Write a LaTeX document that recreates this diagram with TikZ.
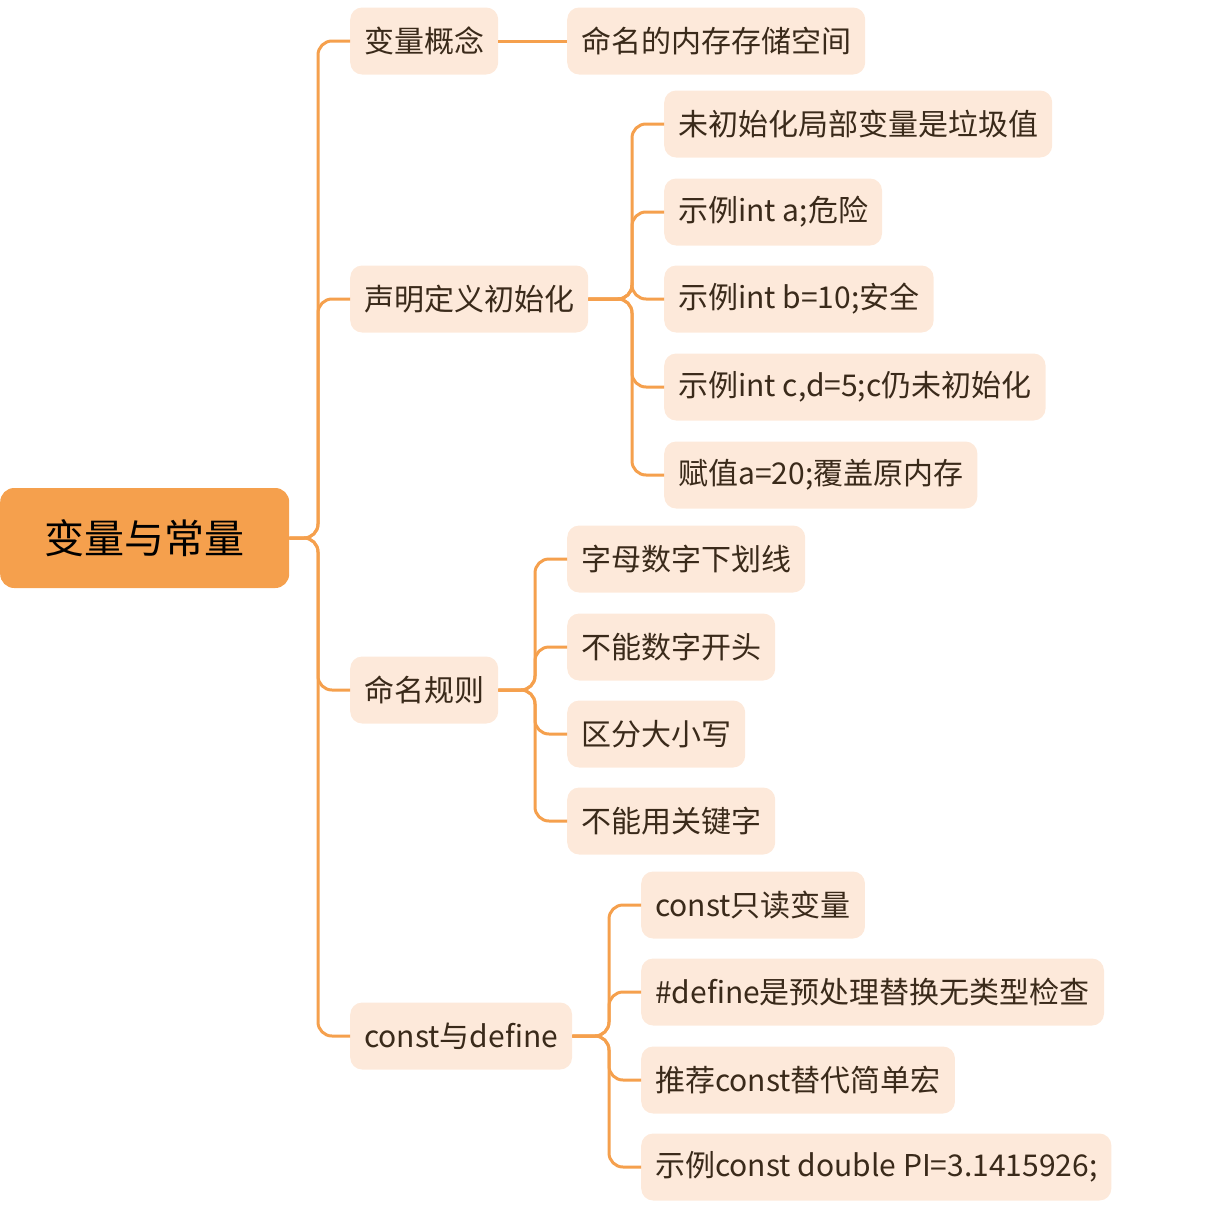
\documentclass[tikz,border=0pt]{standalone}
\usepackage{fontspec}
\setmainfont{Noto Sans CJK SC}
\definecolor{org}{HTML}{F5A04D}
\definecolor{pale}{HTML}{FDE9DA}
\definecolor{txt}{HTML}{3A2A1A}
\begin{document}
\begin{tikzpicture}[x=1pt,y=-1pt,
  leaf/.style={fill=pale,rounded corners=12pt,minimum height=67pt,anchor=west,inner xsep=14pt,text=txt,font=\fontsize{30pt}{34pt}\selectfont},
  rootn/.style={fill=org,rounded corners=14pt,minimum height=100pt,minimum width=289pt,anchor=west,text=black,font=\fontsize{40pt}{44pt}\selectfont},
  conn/.style={draw=org,line width=3pt,rounded corners=14pt}]
\useasboundingbox (0,0) rectangle (1229,1210);
\node[rootn] (r) at (0,538) {变量与常量};
\node[leaf] (a) at (350,41) {变量概念};
\node[leaf] (b) at (350,299) {声明定义初始化};
\node[leaf] (c) at (350,690) {命名规则};
\node[leaf] (d) at (350,1036) {const与define};
\node[leaf] (a1) at (567,41) {命名的内存存储空间};
\node[leaf] (b1) at (664,124) {未初始化局部变量是垃圾值};
\node[leaf] (b2) at (664,212) {示例int a;危险};
\node[leaf] (b3) at (664,299) {示例int b=10;安全};
\node[leaf] (b4) at (664,387) {示例int c,d=5;c仍未初始化};
\node[leaf] (b5) at (664,475) {赋值a=20;覆盖原内存};
\node[leaf] (c1) at (567,559) {字母数字下划线};
\node[leaf] (c2) at (567,647) {不能数字开头};
\node[leaf] (c3) at (567,734) {区分大小写};
\node[leaf] (c4) at (567,821) {不能用关键字};
\node[leaf] (d1) at (641,905) {const只读变量};
\node[leaf] (d2) at (641,992) {\#define是预处理替换无类型检查};
\node[leaf] (d3) at (641,1080) {推荐const替代简单宏};
\node[leaf] (d4) at (641,1167) {示例const double PI=3.1415926;};
\coordinate (x0) at (318,0);
\coordinate (xb) at (632,0);
\coordinate (xc) at (535,0);
\coordinate (xd) at (609,0);
\foreach \t in {a,b,c,d} \draw[conn] (r.east) -- (r.east -| x0) |- (\t.west);
\draw[conn] (a.east) -- (a1.west);
\foreach \t in {b1,b2,b3,b4,b5} \draw[conn] (b.east) -- (b.east -| xb) |- (\t.west);
\foreach \t in {c1,c2,c3,c4} \draw[conn] (c.east) -- (c.east -| xc) |- (\t.west);
\foreach \t in {d1,d2,d3,d4} \draw[conn] (d.east) -- (d.east -| xd) |- (\t.west);
\end{tikzpicture}
\end{document}
